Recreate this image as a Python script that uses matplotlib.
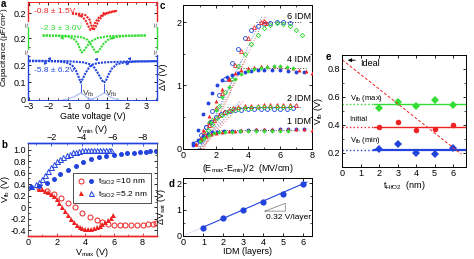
import numpy as np
import matplotlib.pyplot as plt
from matplotlib.legend_handler import HandlerTuple

plt.rcParams['font.family'] = ['Liberation Sans', 'DejaVu Sans']
plt.rcParams['font.size'] = 6.5
plt.rcParams['axes.linewidth'] = 0.7
plt.rcParams['mathtext.default'] = 'regular'

RED = '#ee2222'
GRN = '#33dd33'
BLU = '#2244dd'
LBLU = '#aabbee'

# ---- a: C-V curves (three sweep ranges)
blue_fwd_v = [-3.0, -2.0, -1.5, -1.1, -0.8, -0.6, -0.45, -0.35, -0.25, -0.1, 0.1, 0.3, 0.6, 1.0, 2.0, 3.55]
blue_fwd_c = [0.222, 0.222, 0.22, 0.215, 0.2, 0.17, 0.13, 0.10, 0.12, 0.155, 0.19, 0.205, 0.212, 0.216, 0.22, 0.222]
blue_bwd_v = [-3.0, -1.0, -0.2, 0.1, 0.35, 0.55, 0.7, 0.82, 0.92, 1.05, 1.25, 1.5, 1.9, 2.5, 3.55]
blue_bwd_c = [0.225, 0.222, 0.215, 0.205, 0.185, 0.15, 0.12, 0.10, 0.105, 0.14, 0.18, 0.205, 0.215, 0.22, 0.222]
green_fwd_v = [-2.3, -1.5, -1.0, -0.7, -0.5, -0.4, -0.3, -0.2, -0.05, 0.15, 0.5, 1.0, 2.0, 3.0]
green_fwd_c = [0.215, 0.213, 0.208, 0.195, 0.17, 0.14, 0.118, 0.125, 0.15, 0.18, 0.2, 0.21, 0.214, 0.215]
green_bwd_v = [-2.3, -1.0, -0.3, 0.0, 0.2, 0.35, 0.47, 0.6, 0.8, 1.1, 1.5, 2.0, 3.0]
green_bwd_c = [0.215, 0.213, 0.205, 0.19, 0.16, 0.13, 0.115, 0.13, 0.165, 0.195, 0.207, 0.212, 0.215]
red_fwd_v = [-0.8, -0.5, -0.3, -0.1, 0.05, 0.15, 0.25, 0.4, 0.6, 0.9, 1.2, 1.5]
red_fwd_c = [0.2, 0.195, 0.185, 0.16, 0.125, 0.105, 0.115, 0.15, 0.18, 0.2, 0.21, 0.215]
red_bwd_v = [-0.8, -0.4, -0.1, 0.1, 0.2, 0.3, 0.4, 0.55, 0.75, 1.0, 1.5]
red_bwd_c = [0.2, 0.198, 0.19, 0.165, 0.13, 0.105, 0.12, 0.155, 0.185, 0.2, 0.215]
# faint Vfb distributions under the blue dips
dist1_v = [-1.3, -1.0, -0.7, -0.5, -0.35, -0.2, 0.0, 0.3]
dist1_c = [0.0, 0.006, 0.018, 0.03, 0.04, 0.03, 0.012, 0.0]
dist2_v = [0.0, 0.3, 0.55, 0.72, 0.85, 1.0, 1.25, 1.6]
dist2_c = [0.0, 0.008, 0.02, 0.032, 0.04, 0.03, 0.012, 0.0]
OFF_G = 0.154   # vertical offset of green block
OFF_R = 0.295   # vertical offset of red block

# ---- b: flat-band voltage vs sweep limits
red_circ_vmax = [0.8, 1.3, 1.8, 2.3, 2.8, 3.3, 3.8, 4.3, 4.8, 5.2, 5.6, 6.0, 6.4, 6.8, 7.2, 7.6, 8.0, 8.4, 8.7, 8.95]
red_circ_vfb = [0.33, 0.28, 0.23, 0.17, 0.08, 0.0, -0.09, -0.17, -0.22, -0.26, -0.28, -0.3, -0.31, -0.31, -0.31, -0.31, -0.3, -0.29, -0.28, -0.27]
red_tri_vmax = [0.8, 1.0, 1.2, 1.4, 1.6, 1.8, 2.0, 2.2, 2.4, 2.6, 2.8, 3.0, 3.2, 3.4, 3.6, 3.8, 4.0, 4.2, 4.4, 4.6, 4.8, 5.0, 5.2, 5.4, 5.6, 5.8, 5.95]
red_tri_vfb = [0.32, 0.31, 0.29, 0.27, 0.24, 0.2, 0.14, 0.07, 0.0, -0.06, -0.13, -0.2, -0.26, -0.31, -0.34, -0.36, -0.37, -0.37, -0.37, -0.36, -0.34, -0.32, -0.29, -0.26, -0.22, -0.18, -0.14]
blue_circ_vmin = [-0.7, -1.2, -1.7, -2.2, -2.6, -3.1, -3.6, -4.1, -4.6, -5.1, -5.6, -6.1, -6.6, -7.0, -7.4, -7.8, -8.2, -8.5, -8.85]
blue_circ_vfb = [0.35, 0.37, 0.42, 0.49, 0.57, 0.65, 0.72, 0.78, 0.83, 0.87, 0.895, 0.91, 0.925, 0.935, 0.945, 0.95, 0.96, 0.97, 0.975]
blue_tri_vmin = [-0.7, -1.0, -1.2, -1.4, -1.6, -1.8, -2.0, -2.2, -2.4, -2.6, -2.8, -3.0, -3.2, -3.4, -3.6, -3.8, -4.0, -4.2, -4.4, -4.6, -4.8, -5.0, -5.2, -5.4, -5.6, -5.8, -5.95]
blue_tri_vfb = [0.37, 0.40, 0.44, 0.49, 0.56, 0.63, 0.69, 0.75, 0.80, 0.84, 0.88, 0.91, 0.93, 0.95, 0.965, 0.975, 0.985, 0.99, 0.99, 0.99, 0.995, 0.99, 0.99, 0.99, 0.99, 0.99, 0.985]

# ---- c: memory window vs field, per IDM thickness
c6_blue_x = [1.0, 1.4, 1.8, 2.2, 2.6, 3.0, 3.4, 3.8, 4.2, 4.6, 5.0, 5.4, 5.8, 6.2, 6.6]
c6_blue_y = [0.12, 0.35, 0.6, 0.85, 1.1, 1.35, 1.58, 1.75, 1.87, 1.94, 1.97, 1.99, 2.0, 2.0, 1.98]
c6_red_x = [1.2, 1.6, 2.0, 2.4, 2.8, 3.2, 3.6, 4.0, 4.4, 4.8, 5.0, 5.1]
c6_red_y = [0.2, 0.42, 0.65, 0.88, 1.1, 1.32, 1.55, 1.75, 1.92, 2.0, 2.01, 1.99]
c6_grn_x = [1.4, 1.8, 2.2, 2.6, 3.0, 3.4, 3.8, 4.2, 4.6, 5.0, 5.4, 5.8, 6.2, 6.6, 7.0, 7.35]
c6_grn_y = [0.25, 0.45, 0.68, 0.9, 1.1, 1.3, 1.5, 1.66, 1.8, 1.9, 1.96, 1.98, 1.97, 1.93, 1.87, 1.8]
c4_blue_x = [0.6, 0.9, 1.2, 1.5, 1.8, 2.1, 2.4, 2.7, 3.0, 3.4, 3.8, 4.2, 4.6, 5.0, 5.5, 6.0, 6.5, 7.0, 7.5]
c4_blue_y = [0.1, 0.3, 0.55, 0.72, 0.88, 1.0, 1.08, 1.13, 1.17, 1.2, 1.22, 1.23, 1.24, 1.24, 1.24, 1.24, 1.23, 1.22, 1.21]
c4_red_x = [0.8, 1.2, 1.6, 2.0, 2.4, 2.8, 3.2, 3.6, 4.0, 4.4, 4.8, 5.2, 5.6, 6.0, 6.4, 6.8, 7.2, 7.6, 8.0]
c4_red_y = [0.08, 0.3, 0.52, 0.75, 0.95, 1.1, 1.19, 1.24, 1.27, 1.29, 1.3, 1.31, 1.31, 1.3, 1.29, 1.27, 1.25, 1.23, 1.19]
c4_grn_x = [1.2, 1.6, 2.0, 2.4, 2.8, 3.2, 3.6, 4.0, 4.4, 4.8, 5.2, 5.6, 6.0, 6.4, 6.8]
c4_grn_y = [0.2, 0.42, 0.62, 0.82, 0.98, 1.1, 1.18, 1.23, 1.26, 1.28, 1.29, 1.3, 1.3, 1.29, 1.27]
c2_blue_x = [0.8, 1.1, 1.4, 1.7, 2.0, 2.3, 2.6, 2.9, 3.2, 3.6, 4.0, 4.4, 4.8, 5.2, 5.6, 6.0, 6.4, 6.8]
c2_blue_y = [0.1, 0.22, 0.34, 0.43, 0.5, 0.55, 0.58, 0.6, 0.61, 0.62, 0.63, 0.63, 0.63, 0.63, 0.63, 0.63, 0.63, 0.64]
c2_red_x = [1.0, 1.3, 1.6, 1.9, 2.2, 2.5, 2.8, 3.1, 3.4, 3.8, 4.2, 4.6, 5.0, 5.4, 5.8, 6.2, 6.6, 7.0]
c2_red_y = [0.15, 0.27, 0.38, 0.46, 0.53, 0.58, 0.62, 0.64, 0.66, 0.67, 0.68, 0.68, 0.69, 0.69, 0.69, 0.69, 0.69, 0.69]
c2_grn_x = [1.2, 1.5, 1.8, 2.1, 2.4, 2.7, 3.0, 3.4, 3.8, 4.2, 4.6, 5.0, 5.4, 5.8, 6.2, 6.6]
c2_grn_y = [0.18, 0.3, 0.4, 0.48, 0.54, 0.58, 0.61, 0.63, 0.64, 0.65, 0.66, 0.66, 0.66, 0.66, 0.66, 0.66]
c1_blue_x = [0.6, 0.9, 1.2, 1.5, 1.8, 2.1, 2.5, 3.0, 3.5, 4.0, 4.5, 5.0, 5.5, 6.0, 6.5, 7.0, 7.5]
c1_blue_y = [0.06, 0.14, 0.2, 0.24, 0.26, 0.27, 0.28, 0.29, 0.29, 0.3, 0.3, 0.3, 0.3, 0.31, 0.31, 0.31, 0.31]
c1_red_x = [0.8, 1.1, 1.4, 1.7, 2.0, 2.4, 2.8, 3.2, 3.6, 4.0, 4.5, 5.0, 5.5, 6.0, 6.5, 7.0, 7.5, 8.0]
c1_red_y = [0.08, 0.15, 0.2, 0.23, 0.25, 0.27, 0.28, 0.29, 0.3, 0.3, 0.31, 0.31, 0.31, 0.31, 0.31, 0.31, 0.31, 0.3]
c1_grn_x = [1.0, 1.3, 1.6, 1.9, 2.2, 2.6, 3.0, 3.5, 4.0, 4.5, 5.0, 5.5, 6.0, 6.5]
c1_grn_y = [0.12, 0.18, 0.22, 0.25, 0.26, 0.27, 0.27, 0.28, 0.28, 0.28, 0.28, 0.28, 0.28, 0.28]
c_sat_levels = [2.0, 1.27, 0.66, 0.3]
c_sat_start = [4.5, 3.4, 2.7, 2.0]
c_sat_end = [7.3, 7.6, 7.3, 7.2]
c_rise_x0 = [1.1, 1.0, 0.9, 0.9]
c_rise_x1 = [4.9, 3.6, 3.5, 2.3]
c_rise_y1 = [2.1, 1.4, 0.75, 0.45]
c_labels = ['6 IDM', '4 IDM', '2 IDM', '1 IDM']
c_label_y = [2.09, 1.41, 0.8, 0.43]

# ---- d: saturated window vs IDM layers
idm_layers = [1, 2, 3, 4, 5, 6]
dv_sat = [0.3, 0.66, 1.0, 1.27, 1.6, 1.99]

# ---- e: Vfb vs HfO2 thickness
t_hfo2 = [2, 3, 4, 5, 6]
vfb_max = [0.52, 0.565, 0.535, 0.58, 0.54]
vfb_init = [0.386, 0.418, 0.363, 0.37, 0.40]
vfb_min = [0.229, 0.26, 0.196, 0.189, 0.236]
ideal_t = [0.0, 6.45]
ideal_vfb = [0.865, 0.19]


def style(ax, top=True, right=True):
    ax.tick_params(direction='in', length=2.5, width=0.6, top=top, right=right, pad=1.5, labelsize=6.5)
    ax.tick_params(which='minor', direction='in', length=1.5, width=0.5, top=top, right=right)


fig = plt.figure(figsize=(4.74, 2.59), dpi=100)

# ================= a
axa = fig.add_axes([0.059, 0.614, 0.272, 0.378])
dot = dict(ls=(0, (1, 0.5)), lw=1.5)
axa.plot(blue_fwd_v, blue_fwd_c, color=BLU, **dot)
axa.plot(blue_bwd_v, blue_bwd_c, color=BLU, **dot)
axa.plot(green_fwd_v, np.array(green_fwd_c) + OFF_G, color=GRN, **dot)
axa.plot(green_bwd_v, np.array(green_bwd_c) + OFF_G, color=GRN, **dot)
axa.plot(red_fwd_v, np.array(red_fwd_c) + OFF_R, color=RED, **dot)
axa.plot(red_bwd_v, np.array(red_bwd_c) + OFF_R, color=RED, **dot)
axa.plot(dist1_v, dist1_c, color=LBLU, lw=0.8)
axa.plot(dist2_v, dist2_c, color=LBLU, lw=0.8)
for xv in [-0.35, 0.85]:
    axa.plot([xv, xv], [0.045, 0.09], color=BLU, lw=0.6)
    axa.text(xv + 0.05, 0.005, 'V$_{fb}$', fontsize=6, color='#333333', ha='left', va='bottom')
# sweep direction arrows
for x0, y0, dx, col in [(-1.8, 0.236, -0.4, BLU), (0.6, 0.232, -0.4, BLU), (2.3, 0.236, -0.4, BLU),
                        (-2.3, 0.21, 0.4, BLU), (1.9, 0.207, 0.4, BLU),
                        (-1.2, 0.2 + OFF_G, -0.35, GRN), (1.2, 0.2 + OFF_G, 0.35, GRN),
                        (-0.3, 0.185 + OFF_R, -0.3, RED), (0.8, 0.2 + OFF_R, 0.3, RED)]:
    axa.annotate('', xy=(x0 + dx, y0), xytext=(x0, y0),
                 arrowprops=dict(arrowstyle='-|>', color=col, lw=0.6, mutation_scale=4))
axa.text(-2.75, 0.16, '-5.8 \u00b1 6.2V', color=BLU, fontsize=6)
axa.text(-2.4, 0.4, '-2.3 \u00b1 3.0V', color=GRN, fontsize=6)
axa.text(-2.75, 0.495, '-0.8 \u00b1 1.5V', color=RED, fontsize=6)
axa.set_xlim(-3.05, 3.55)
axa.set_ylim(0, 0.56)
axa.set_xticks([-3, -2, -1, 0, 1, 2, 3])
axa.set_yticks([0, 0.1, 0.2, 0.2 + OFF_G, 0.2 + OFF_R])
axa.set_yticklabels(['0', '0.1', '0.2', '0.2', '0.2'])
axa.set_xticks(np.arange(-3, 3.6, 0.5), minor=True)
axa.set_yticks([0.05, 0.15, 0.1 + OFF_G, 0.15 + OFF_G, 0.15 + OFF_R, 0.25 + OFF_R], minor=True)
style(axa)
axa.set_xlabel('Gate voltage (V)', labelpad=0.5, fontsize=6.5)
axa.set_ylabel('Capacitance (\u03bcF/cm$^2$)', fontsize=5.8)
axa.yaxis.set_label_coords(-0.125, 0.54)
for s in ['left', 'right']:
    axa.spines[s].set_visible(False)
axa.spines['top'].set_color(RED)
axa.spines['bottom'].set_color(BLU)
for xs in [0, 1]:
    for y0, y1, col in [(0, 0.274, BLU), (0.274, 0.43, GRN), (0.43, 0.56, RED)]:
        axa.plot([xs, xs], [y0, y1], color=col, lw=1.0, transform=axa.get_yaxis_transform(), clip_on=False)
    for yb in [0.274, 0.43]:
        axa.text(xs, yb, '\u2248', transform=axa.get_yaxis_transform(), ha='center', va='center',
                 fontsize=6, color='#555555', rotation=90,
                 bbox=dict(fc='white', ec='none', pad=0.1))
fig.text(0.002, 1.005, 'a', fontsize=7, fontweight='bold', va='top')

# ================= b
axb = fig.add_axes([0.059, 0.09, 0.272, 0.357])
axb2 = axb.twiny()
h1, = axb.plot(red_circ_vmax, red_circ_vfb, 'o', mfc='none', mec=RED, ms=3.6, mew=0.7)
h3, = axb.plot(red_tri_vmax, red_tri_vfb, '^', color=RED, ms=3.6, mew=0)
h2, = axb2.plot(blue_circ_vmin, blue_circ_vfb, 'o', color=BLU, ms=3.6, mew=0)
h4, = axb2.plot(blue_tri_vmin, blue_tri_vfb, '^', mfc='none', mec=BLU, ms=3.6, mew=0.7)
axb.set_xlim(0, 9)
axb2.set_xlim(-0.47, -8.93)
axb.set_ylim(-0.49, 1.11)
axb.set_xticks([0, 2, 4, 6, 8])
axb.set_xticks(range(0, 10), minor=True)
axb.set_yticks([-0.4, -0.2, 0, 0.2, 0.4, 0.6, 0.8, 1.0])
axb.set_yticklabels(['-0.4', '-0.2', '0', '0.2', '0.4', '0.6', '0.8', '1.0'])
axb.set_yticks(np.arange(-0.4, 1.05, 0.1), minor=True)
axb2.set_xticks([-2, -4, -6, -8])
axb2.set_xticks(range(-1, -9, -1), minor=True)
style(axb, top=False)
axb.tick_params(axis='x', which='both', colors=RED, labelcolor='black')
axb2.tick_params(direction='in', length=2.5, width=0.6, pad=1, labelsize=6.5, colors=BLU, labelcolor='black')
axb2.tick_params(which='minor', direction='in', length=1.5, width=0.5, colors=BLU)
for a in [axb, axb2]:
    a.spines['top'].set_color(BLU)
    a.spines['bottom'].set_color(RED)
    a.spines['top'].set_linewidth(1.0)
    a.spines['bottom'].set_linewidth(1.0)
    a.spines['left'].set_color('#555555')
    a.spines['right'].set_color('#555555')
axb.set_xlabel('V$_{max}$ (V)', fontsize=6.5)
axb.xaxis.set_label_coords(0.5, -0.11)
axb2.set_xlabel('V$_{min}$ (V)', fontsize=6.5)
axb2.xaxis.set_label_coords(0.5, 1.12)
axb.set_ylabel('V$_{fb}$ (V)', fontsize=6.5)
axb.yaxis.set_label_coords(-0.125, 0.5)
leg = axb.legend([(h1, h2), (h3, h4)], ['t$_{SiO2}$ =10 nm', 't$_{SiO2}$ =5.2 nm'],
                 handler_map={tuple: HandlerTuple(ndivide=None, pad=0.3)},
                 loc='lower right', bbox_to_anchor=(0.985, 0.31), fontsize=6,
                 frameon=True, fancybox=False, edgecolor='#333333', framealpha=1,
                 handlelength=2.2, handletextpad=0.3, borderpad=0.4, labelspacing=0.3)
leg.get_frame().set_linewidth(0.6)
fig.text(0.004, 0.46, 'b', fontsize=7, fontweight='bold', va='top')

# ================= c
axc = fig.add_axes([0.387, 0.425, 0.272, 0.556])
ms_c = 2.8
groups = [
    (c6_blue_x, c6_blue_y, 'o', BLU, False), (c6_red_x, c6_red_y, '^', RED, False), (c6_grn_x, c6_grn_y, 'D', GRN, False),
    (c4_blue_x, c4_blue_y, 'o', BLU, True), (c4_red_x, c4_red_y, '^', RED, True), (c4_grn_x, c4_grn_y, 'D', GRN, True),
    (c2_blue_x, c2_blue_y, 'o', BLU, False), (c2_red_x, c2_red_y, '^', RED, False), (c2_grn_x, c2_grn_y, 'D', GRN, False),
    (c1_blue_x, c1_blue_y, 'o', BLU, True), (c1_red_x, c1_red_y, '^', RED, True), (c1_grn_x, c1_grn_y, 'D', GRN, True),
]
for xs, ys, mk, col, filled in groups:
    sz = ms_c * (0.8 if mk == 'D' else 1.0)
    if filled:
        axc.plot(xs, ys, mk, color=col, ms=sz, mew=0, zorder=3)
    else:
        axc.plot(xs, ys, mk, mfc='none', mec=col, ms=sz, mew=0.6, zorder=3)
for lev, xa, xb in zip(c_sat_levels, c_sat_start, c_sat_end):
    axc.plot([xa, xb], [lev, lev], color='#444444', ls=':', lw=0.7, zorder=2)
for x0, x1, y1 in zip(c_rise_x0, c_rise_x1, c_rise_y1):
    axc.plot([x0, x1], [0, y1], color='#7788cc', ls=':', lw=0.7, zorder=2)
    axc.plot([x0 + 0.2, x1 + 0.2], [0, y1], color='#dd7777', ls=':', lw=0.7, zorder=2)
for lab, ly in zip(c_labels, c_label_y):
    axc.text(7.15, ly, lab, ha='center', va='center', fontsize=6.5)
axc.set_xlim(0, 8)
axc.set_ylim(0, 2.27)
axc.set_xticks([0, 2, 4, 6, 8])
axc.set_xticks(range(0, 9), minor=True)
axc.set_yticks([0, 1, 2])
axc.set_yticks(np.arange(0, 2.3, 0.5), minor=True)
style(axc)
axc.set_xlabel('(E$_{max}$-E$_{min}$)/2  (MV/cm)', labelpad=1.5, fontsize=6.5)
axc.set_ylabel('\u0394V (V)', fontsize=6.5)
axc.yaxis.set_label_coords(-0.12, 0.5)
fig.text(0.336, 0.997, 'c', fontsize=7, fontweight='bold', va='top')

# ================= d
axd = fig.add_axes([0.387, 0.09, 0.272, 0.222])
axd.plot([0, 1], [0, 0.33], color='#8899dd', lw=0.6, ls=':')
axd.plot([1, 6.2], [0.33, 2.05], color=BLU, lw=0.8)
axd.plot(idm_layers, dv_sat, 'o', color=BLU, ms=4.5, mew=0)
axd.plot([4.1, 5.12, 5.12, 4.1], [0.94, 0.94, 1.24, 0.94], color='#888888', lw=0.6)
axd.text(4.15, 0.68, '0.32 V/layer', fontsize=6, va='center')
axd.set_xlim(0, 6.48)
axd.set_ylim(0, 2.2)
axd.set_xticks(range(0, 7))
axd.set_yticks([0, 1, 2])
axd.set_yticks([0.5, 1.5], minor=True)
style(axd)
axd.set_xlabel('IDM (layers)', labelpad=0, fontsize=6.5)
axd.set_ylabel('\u0394V$_{sat}$ (V)', fontsize=6.5)
axd.yaxis.set_label_coords(-0.12, 0.5)
fig.text(0.356, 0.31, 'd', fontsize=7, fontweight='bold', va='top')

# ================= e
axe = fig.add_axes([0.722, 0.356, 0.262, 0.432])
for ys, col, mk, lw in [(vfb_max, GRN, 'D', 1.0), (vfb_init, RED, 'o', 1.0), (vfb_min, BLU, 'D', 1.6)]:
    m = np.mean(ys)
    axe.plot([0, 1.7], [m, m], color=col, ls=':', lw=1.0)
    axe.plot([1.7, 6.7], [m, m], color=col, lw=lw)
    axe.plot(t_hfo2, ys, mk, color=col, ms=4.0, mew=0)
axe.plot(ideal_t, ideal_vfb, color=RED, ls=(0, (3, 2)), lw=0.7)
axe.annotate('', xy=(0.15, 0.862), xytext=(0.85, 0.862),
             arrowprops=dict(arrowstyle='-|>', color='black', lw=0.7, mutation_scale=5))
axe.text(0.95, 0.838, 'Ideal', fontsize=6.5, va='center')
axe.text(0.4, 0.585, 'V$_{fb}$ (max)', fontsize=5.5, va='center')
axe.text(0.4, 0.435, 'Initial', fontsize=5.5, va='center')
axe.text(0.4, 0.29, 'V$_{fb}$ (min)', fontsize=5.5, va='center')
axe.set_xlim(0, 6.72)
axe.set_ylim(0.1, 0.9)
axe.set_xticks(range(0, 7))
axe.set_yticks([0.2, 0.4, 0.6, 0.8])
axe.set_yticks([0.1, 0.3, 0.5, 0.7, 0.9], minor=True)
style(axe)
axe.set_xlabel('t$_{HfO2}$  (nm)', labelpad=1, fontsize=6.5)
axe.set_ylabel('V$_{fb}$ (V)', labelpad=2, fontsize=6.5)
fig.text(0.686, 0.8, 'e', fontsize=7, fontweight='bold', va='top')

fig.savefig('out.png', dpi=100)
